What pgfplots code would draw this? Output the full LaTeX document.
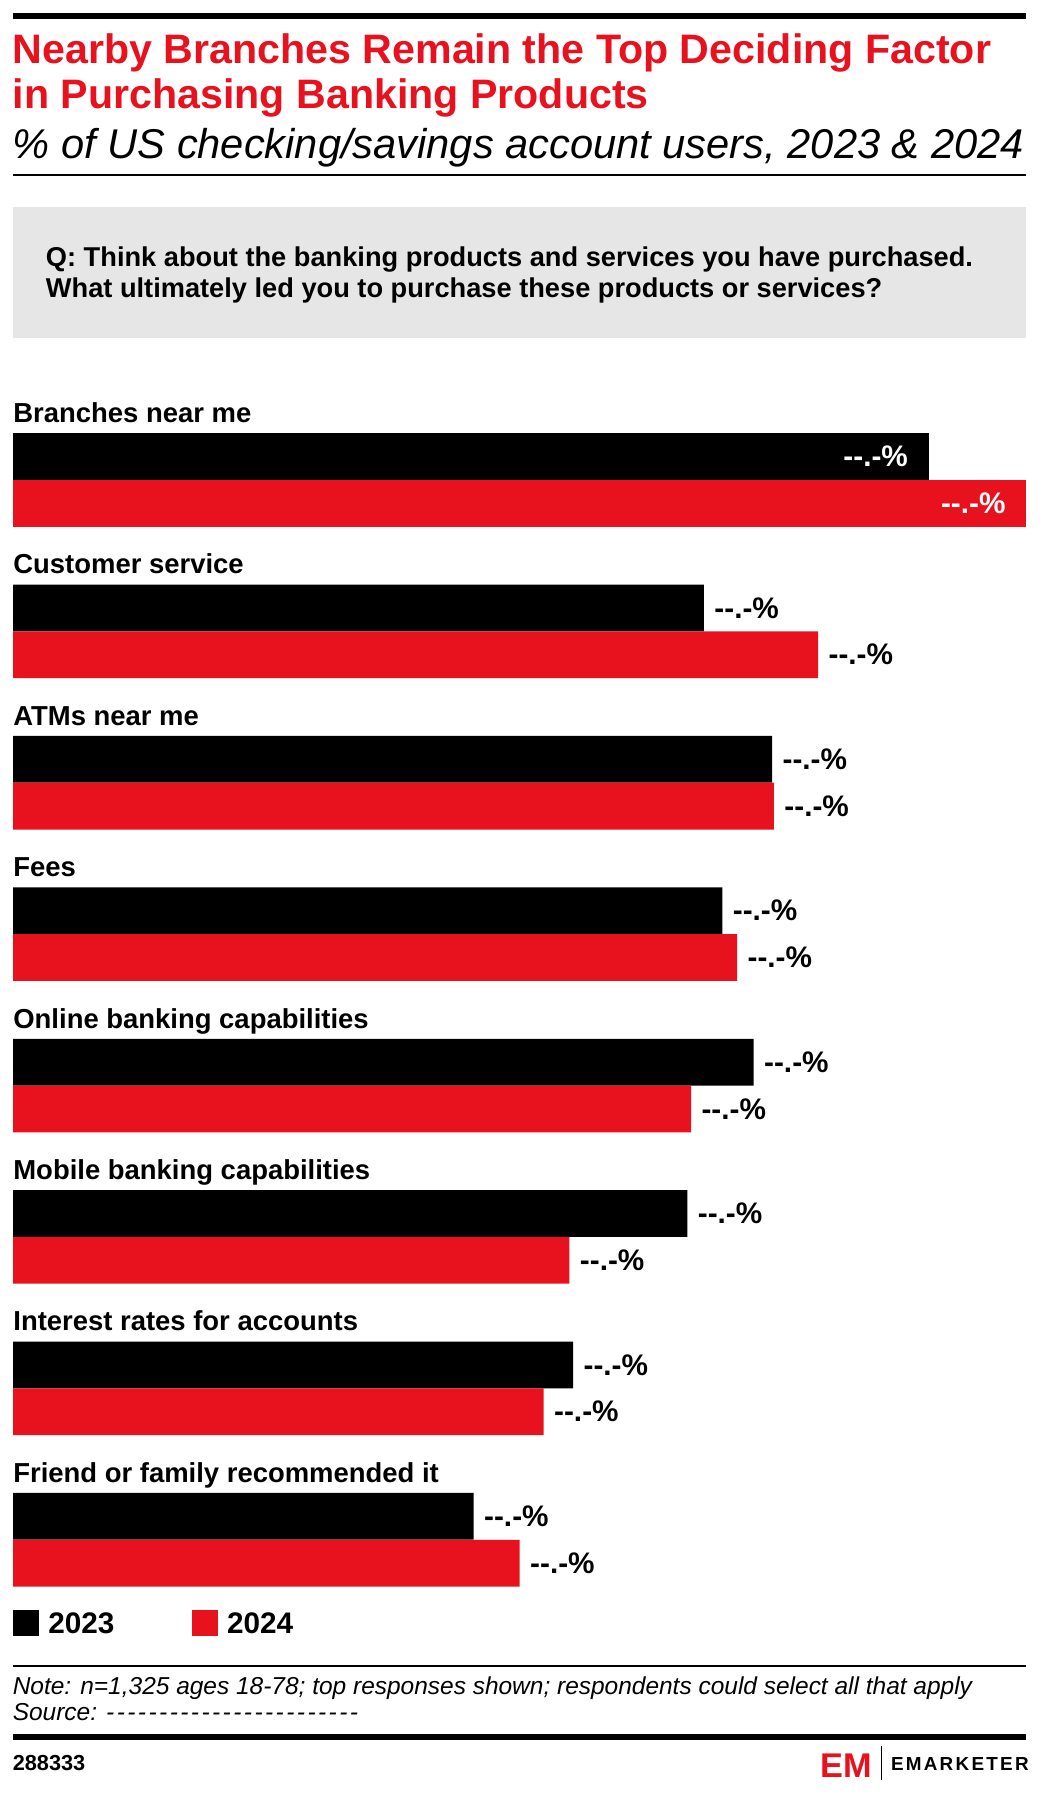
\documentclass[border=0pt]{standalone}
\usepackage{fontspec}
\setmainfont{Liberation Sans}[Ligatures=TeXOff]
\newfontfamily\logofont{Liberation Sans}[Ligatures=TeXOff,LetterSpace=12]
\usepackage{pgfplots}
\pgfplotsset{compat=1.18}
\definecolor{emred}{RGB}{232,17,30}
\definecolor{boxgray}{RGB}{230,230,230}
\begin{document}
\begin{tikzpicture}[x=1bp,y=-1bp]
\path[use as bounding box] (0,0) rectangle (909,1568);
% header
\fill[black] (11.5,11.1) rectangle (897.5,16.9);
\node[anchor=base west,inner sep=0,text=emred,font=\fontsize{36bp}{40bp}\selectfont\bfseries] at (11,55.4) {Nearby Branches Remain the Top Deciding Factor};
\node[anchor=base west,inner sep=0,text=emred,font=\fontsize{36bp}{40bp}\selectfont\bfseries] at (11,95) {in Purchasing Banking Products};
\node[anchor=base west,inner sep=0,font=\fontsize{36.4bp}{40bp}\selectfont\itshape] at (11,138.6) {\% of US checking/savings account users, 2023 \& 2024};
\fill[black] (11.5,152.2) rectangle (897.5,154);
\fill[boxgray] (11.5,181) rectangle (897.5,296);
\node[anchor=base west,inner sep=0,font=\fontsize{23.8bp}{28bp}\selectfont\bfseries] at (40,233) {Q: Think about the banking products and services you have purchased.};
\node[anchor=base west,inner sep=0,font=\fontsize{23.8bp}{28bp}\selectfont\bfseries] at (40,260.4) {What ultimately led you to purchase these products or services?};
% chart
\begin{axis}[
  at={(11.5bp,-1412.7bp)}, anchor=south west,
  xbar, x=16.109bp, y=132.4bp,
  xmin=0, xmax=55, ymin=-0.5, ymax=7.5,
  axis line style={draw=none},
  xtick=\empty,
  ytick={7.379,6.379,5.379,4.379,3.379,2.379,1.379,0.379},
  yticklabels={Branches near me,Customer service,ATMs near me,Fees,Online banking capabilities,Mobile banking capabilities,Interest rates for accounts,Friend or family recommended it},
  major tick length=0pt,
  yticklabel style={anchor=base west,inner sep=0pt,font=\fontsize{24bp}{28bp}\selectfont\bfseries},
  bar width=40.9bp, bar shift=0pt,
  clip=false,
  nodes near coords={--.-\%},
  every node near coord/.append style={anchor=west,inner sep=0pt,xshift=9bp,text=black,font=\fontsize{26bp}{30bp}\selectfont\bfseries},
  legend columns=2,
  legend style={at={(0,0)},anchor=north west,yshift=4.7bp,draw=none,fill=none,inner sep=0pt,
    font=\fontsize{26bp}{30bp}\selectfont\bfseries,
    nodes={inner sep=0pt},
    /tikz/every odd column/.append style={column sep=8bp},
    /tikz/every even column/.append style={column sep=68bp}},
  legend image code/.code={\fill[#1,draw=none] (0bp,-10.8bp) rectangle (22.5bp,11.7bp);},
]
\addplot[fill=black,draw=none] coordinates {(37.5,6.1545) (41.2,5.1545) (38.5,4.1545) (40.2,3.1545) (36.6,2.1545) (30.4,1.1545) (25.0,0.1545)};
\addlegendentry{2023}
\addplot[fill=emred,draw=none] coordinates {(43.7,5.8455) (41.3,4.8455) (39.3,3.8455) (36.8,2.8455) (30.2,1.8455) (28.8,0.8455) (27.5,-0.1545)};
\addlegendentry{2024}
\addplot[fill=black,draw=none,forget plot,every node near coord/.append style={anchor=east,xshift=-27bp,text=white}] coordinates {(49.7,7.1545)};
\addplot[fill=emred,draw=none,forget plot,every node near coord/.append style={anchor=east,xshift=-27bp,text=white}] coordinates {(55.0,6.8455)};
\end{axis}
% footer
\fill[black] (11.5,1456.4) rectangle (897.5,1458.2);
\node[anchor=base west,inner sep=0,font=\fontsize{21.4bp}{24bp}\selectfont\itshape] at (11,1481.5) {Note: n=1,325 ages 18-78; top responses shown; respondents could select all that apply};
\node[anchor=base west,inner sep=0,font=\fontsize{21.4bp}{24bp}\selectfont\itshape] at (11,1504.3) {Source: {\addfontfeatures{LetterSpace=10}------------------------}};
\fill[black] (11.5,1516) rectangle (897.5,1521.5);
\node[anchor=base west,inner sep=0,font=\fontsize{19bp}{22bp}\selectfont\bfseries] at (11,1548.6) {288333};
\node[anchor=base west,inner sep=0,text=emred,font=\fontsize{30bp}{32bp}\selectfont\bfseries] at (717,1554.4) {EM};
\draw[black,line width=1.2bp] (771,1527) -- (771,1557);
\node[anchor=base west,inner sep=0,font=\fontsize{16.5bp}{20bp}\logofont\bfseries] at (779,1548.6) {EMARKETER};
\end{tikzpicture}
\end{document}
